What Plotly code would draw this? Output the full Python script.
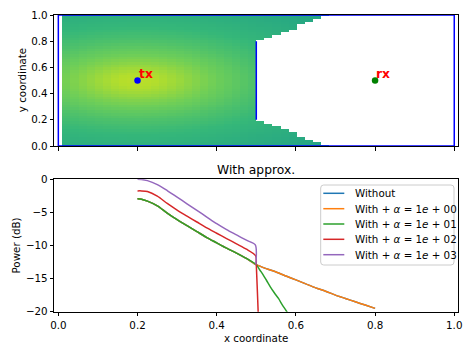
import numpy as np
import plotly.graph_objects as go

W, H = 474, 355

# ---------------- data ----------------
# bottom panel: received power along x (dB)
x_common = [0.2, 0.21, 0.225, 0.25, 0.275, 0.3, 0.325, 0.35, 0.375, 0.4, 0.425, 0.45, 0.475, 0.5]
db_common = [-2.95, -3.0, -3.3, -4.0, -5.1, -6.1, -7.0, -7.9, -8.8, -9.6, -10.4, -11.15, -11.95, -12.9]

x_after = [0.525, 0.55, 0.575, 0.6, 0.625, 0.65, 0.675, 0.7, 0.725, 0.75, 0.775, 0.8]
db_after_orange = [-13.5, -14.0, -14.6, -15.2, -15.8, -16.4, -16.9, -17.5, -18.0, -18.5, -19.0, -19.5]

x_after_green = [0.509, 0.518, 0.527, 0.535, 0.545, 0.556, 0.566, 0.577, 0.59]
db_after_green = [-13.7, -14.5, -15.4, -16.2, -17.1, -18.0, -19.0, -20.0, -21.5]

x_red = [0.2, 0.21, 0.225, 0.25, 0.275, 0.3, 0.325, 0.35, 0.375, 0.4, 0.425, 0.45, 0.475, 0.4985, 0.5, 0.505, 0.51]
db_red = [-1.75, -1.75, -1.85, -2.55, -3.65, -4.65, -5.55, -6.45, -7.35, -8.15, -8.95, -9.75, -10.55, -11.55, -12.9, -20.5, -28.0]

x_purple = [0.2, 0.21, 0.225, 0.25, 0.275, 0.3, 0.325, 0.35, 0.375, 0.4, 0.425, 0.45, 0.475, 0.4975, 0.499]
db_purple = [0.0, -0.02, -0.2, -0.8, -1.7, -2.7, -3.7, -4.7, -5.7, -6.7, -7.6, -8.4, -9.2, -9.9, -12.9]

series_names = ["Without",
                "With + <i>α</i> = 1<i>e</i> + 00",
                "With + <i>α</i> = 1<i>e</i> + 01",
                "With + <i>α</i> = 1<i>e</i> + 02",
                "With + <i>α</i> = 1<i>e</i> + 03"]
series_colors = ["#1f77b4", "#ff7f0e", "#2ca02c", "#d62728", "#9467bd"]

# top panel: power map, radial profile around tx (distance -> dB)
radial_dist = [0.0, 0.05, 0.1, 0.15, 0.2, 0.3, 0.4, 0.5, 0.6, 0.8]
radial_db = [-4.0, -4.6, -6.0, -7.6, -9.0, -11.4, -13.2, -14.6, -15.8, -17.6]
map_zmin, map_zmax = -40.0, 0.0
n_grid = 50
# number of lit cells (from the top / bottom edge) in the columns right of the wall
lit_cells_behind_wall = [10, 9, 8, 7, 6, 4, 3, 2, 1]

tx_pos = (0.2, 0.5)
rx_pos = (0.8, 0.5)
# walls (segments separated by None)
wall_x = [0, 0, None, 1, 1, None, 0, 1, None, 0, 1, None, 0.5, 0.5]
wall_y = [0, 1, None, 0, 1, None, 0, 0, None, 1, 1, None, 0.2, 0.8]

x_ticks = [0.0, 0.2, 0.4, 0.6, 0.8, 1.0]
x_ticktext = ["0.0", "0.2", "0.4", "0.6", "0.8", "1.0"]
y_ticks_top = [0.0, 0.2, 0.4, 0.6, 0.8, 1.0]
y_ticktext_top = ["0.0", "0.2", "0.4", "0.6", "0.8", "1.0"]
y_ticks_bot = [0, -5, -10, -15, -20]
y_ticktext_bot = ["0", "−5", "−10", "−15", "−20"]

# ---------------- build map ----------------
gx = np.linspace(0, 1, n_grid)
gy = np.linspace(0, 1, n_grid)
XX, YY = np.meshgrid(gx, gy)
dist = np.hypot(XX - tx_pos[0], YY - tx_pos[1])
Z = np.interp(dist, radial_dist, radial_db)
Z[:, 0] = np.nan
first_behind = int(np.argmax(gx > 0.5))
for i in range(first_behind, n_grid):
    k = i - first_behind
    n_lit = lit_cells_behind_wall[k] if k < len(lit_cells_behind_wall) else 0
    col = np.full(n_grid, np.nan)
    if n_lit > 0:
        col[:n_lit] = Z[:n_lit, i]
        col[n_grid - n_lit:] = Z[n_grid - n_lit:, i]
    Z[:, i] = col

# ---------------- figure ----------------
fig = go.Figure()
FONT = "DejaVu Sans"
fs = 10.3

fig.add_trace(go.Heatmap(x=gx, y=gy, z=Z, colorscale="Viridis", zmin=map_zmin, zmax=map_zmax,
                         showscale=False, hoverinfo="skip", xaxis="x", yaxis="y"))
fig.add_trace(go.Scatter(x=wall_x, y=wall_y, mode="lines", line=dict(color="#0000ff", width=1.5),
                         showlegend=False, xaxis="x", yaxis="y", connectgaps=False))
fig.add_trace(go.Scatter(x=[tx_pos[0]], y=[tx_pos[1]], mode="markers",
                         marker=dict(color="#0000ff", size=6.5), showlegend=False, xaxis="x", yaxis="y"))
fig.add_trace(go.Scatter(x=[rx_pos[0]], y=[rx_pos[1]], mode="markers",
                         marker=dict(color="#008000", size=6.5), showlegend=False, xaxis="x", yaxis="y"))

series = [
    (x_common + x_after, db_common + db_after_orange),
    (x_common + x_after, db_common + db_after_orange),
    (x_common + x_after_green, db_common + db_after_green),
    (x_red, db_red),
    (x_purple, db_purple),
]
for (xs, ys), name, c in zip(series, series_names, series_colors):
    fig.add_trace(go.Scatter(x=xs, y=ys, mode="lines", name=name,
                             line=dict(color=c, width=1.5, shape="spline", smoothing=0.7),
                             showlegend=False, xaxis="x2", yaxis="y2"))

# layout geometry (pixels)
ax_l, ax_r = 54.3, 458.3
top_t, top_b = 15.0, 146.0
bot_t, bot_b = 179.3, 311.7
dx = [ax_l / W, ax_r / W]

axis_common = dict(showgrid=False, zeroline=False, showline=True, linecolor="black", linewidth=1,
                   mirror=True, ticks="outside", ticklen=3.6, tickwidth=1, tickcolor="black",
                   automargin=False,
                   tickfont=dict(family=FONT, size=fs, color="black"))

fig.update_layout(
    width=W, height=H, autosize=False,
    margin=dict(l=0, r=0, t=0, b=0, pad=0),
    paper_bgcolor="white", plot_bgcolor="white",
    showlegend=False,
    font=dict(family=FONT, size=fs, color="black"),
    xaxis=dict(domain=dx, range=[-0.0102, 1.0102], anchor="y", tickvals=x_ticks,
               showticklabels=False, **axis_common),
    yaxis=dict(domain=[1 - top_b / H, 1 - top_t / H], range=[0, 1], anchor="x",
               tickvals=y_ticks_top, ticktext=y_ticktext_top, **axis_common),
    xaxis2=dict(domain=dx, range=[-0.0102, 1.0102], anchor="y2", tickvals=x_ticks,
                ticktext=x_ticktext, **axis_common),
    yaxis2=dict(domain=[1 - bot_b / H, 1 - bot_t / H], range=[-20, 0], anchor="x2",
                tickvals=y_ticks_bot, ticktext=y_ticktext_bot, **axis_common),
)

ann = []
def px_ann(text, x, y, size=fs, **kw):
    d = dict(text=text, x=x / W, y=1 - y / H, xref="paper", yref="paper", showarrow=False,
             font=dict(family=FONT, size=size, color=kw.pop("color", "black")))
    d.update(kw)
    ann.append(d)

px_ann("y coordinate", 21.7, (top_t + top_b) / 2, textangle=-90, xanchor="center", yanchor="middle")
px_ann("Power (dB)", 15.0, (bot_t + bot_b) / 2, textangle=-90, xanchor="center", yanchor="middle")
px_ann("x coordinate", (ax_l + ax_r) / 2, 338.3, xanchor="center", yanchor="middle")
px_ann("With approx.", (ax_l + ax_r) / 2, 170.0, size=12.3, xanchor="center", yanchor="middle")

# tx / rx labels in data coordinates
for label, pos in (("tx", tx_pos), ("rx", rx_pos)):
    ann.append(dict(text="<b>" + label + "</b>", x=pos[0], y=pos[1], xref="x", yref="y",
                    showarrow=False, xanchor="left", yanchor="bottom", yshift=-3.0, xshift=-1.0,
                    font=dict(family=FONT, size=12.3, color="#ff0000")))

# manual legend
lg_l, lg_r, lg_t, lg_b = 320.7, 454.0, 185.0, 265.0
entry_y = [193.3, 208.7, 224.0, 239.3, 254.7]
shapes = []
r = 3.0
def P(x, y):
    return f"{x / W:.5f},{1 - y / H:.5f}"
path = (f"M {P(lg_l + r, lg_t)} L {P(lg_r - r, lg_t)} Q {P(lg_r, lg_t)} {P(lg_r, lg_t + r)} "
        f"L {P(lg_r, lg_b - r)} Q {P(lg_r, lg_b)} {P(lg_r - r, lg_b)} "
        f"L {P(lg_l + r, lg_b)} Q {P(lg_l, lg_b)} {P(lg_l, lg_b - r)} "
        f"L {P(lg_l, lg_t + r)} Q {P(lg_l, lg_t)} {P(lg_l + r, lg_t)} Z")
shapes.append(dict(type="path", path=path, xref="paper", yref="paper",
                   line=dict(color="#cccccc", width=1), fillcolor="rgba(255,255,255,0.8)", layer="above"))
for ey, name, c in zip(entry_y, series_names, series_colors):
    shapes.append(dict(type="line", xref="paper", yref="paper", x0=323.3 / W, x1=344.3 / W,
                       y0=1 - ey / H, y1=1 - ey / H, line=dict(color=c, width=1.5), layer="above"))
    px_ann(name, 353.3, ey, xanchor="left", yanchor="middle")

fig.update_layout(annotations=ann, shapes=shapes)
fig.write_html("out.html",
               config={"displayModeBar": False},
               post_script="document.body.style.margin='0';document.body.style.padding='0';"
                           "document.body.style.overflow='hidden';")
